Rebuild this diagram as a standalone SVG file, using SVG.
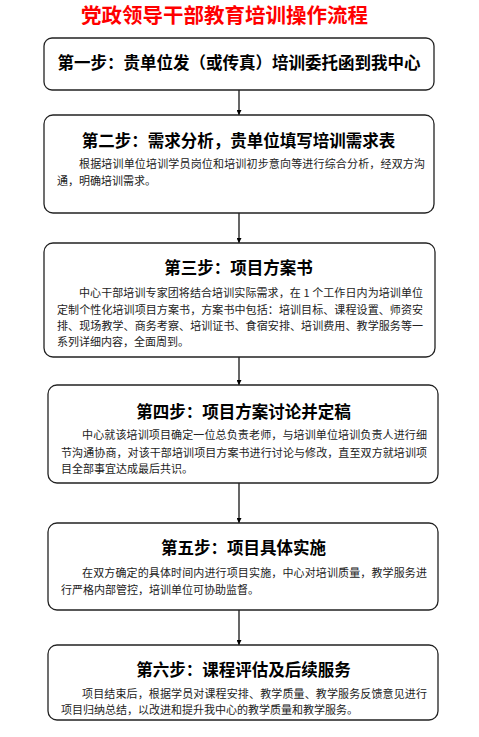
<svg xmlns="http://www.w3.org/2000/svg" width="479" height="737" viewBox="0 0 479 737">
<defs>
<style>
.box{fill:#fff;stroke:#222;stroke-width:1.3}
.h{font-family:"Noto Sans CJK SC","Noto Sans CJK JP",sans-serif;font-weight:bold;font-size:16.5px;fill:#000;text-anchor:middle}
.b{font-family:"Noto Sans CJK SC","Noto Sans CJK JP",sans-serif;font-size:11px;fill:#222}
.c{stroke:#000;stroke-width:1.2;fill:none;marker-end:url(#ah)}
</style>
<marker id="ah" viewBox="0 0 8 8" refX="8" refY="4" markerWidth="5" markerHeight="5" orient="auto" markerUnits="userSpaceOnUse">
<path d="M0,0 L8,4 L0,8 Z" fill="#000"/>
</marker>
</defs>
<rect width="479" height="737" fill="#fff"/>
<text x="224.5" y="23" font-family="Noto Sans CJK SC,sans-serif" font-weight="bold" font-size="20.5" fill="#f00" text-anchor="middle">党政领导干部教育培训操作流程</text>
<g id="connectors">
<line class="c" x1="239" y1="90" x2="239" y2="115"/>
<line class="c" x1="239" y1="213" x2="239" y2="243"/>
<line class="c" x1="239" y1="357" x2="239" y2="385"/>
<line class="c" x1="239" y1="483" x2="239" y2="523"/>
<line class="c" x1="239" y1="610" x2="239" y2="645"/>
</g>
<g id="step1">
<rect class="box" x="44" y="38" width="390" height="52" rx="8"/>
<text class="h" x="239" y="69">第一步：贵单位发（或传真）培训委托函到我中心</text>
</g>
<g id="step2">
<rect class="box" x="44" y="115" width="390" height="98" rx="9"/>
<text class="h" x="238.5" y="147">第二步：需求分析，贵单位填写培训需求表</text>
<text class="b" x="79" y="168" textLength="346" lengthAdjust="spacing">根据培训单位培训学员岗位和培训初步意向等进行综合分析，经双方沟</text>
<text class="b" x="57" y="185">通，明确培训需求。</text>
</g>
<g id="step3">
<rect class="box" x="44" y="243" width="391" height="114" rx="9"/>
<text class="h" x="238.5" y="274">第三步：项目方案书</text>
<text class="b" x="79" y="297" textLength="344" lengthAdjust="spacing">中心干部培训专家团将结合培训实际需求，在 1 个工作日内为培训单位</text>
<text class="b" x="57" y="314" textLength="366" lengthAdjust="spacing">定制个性化培训项目方案书，方案书中包括：培训目标、课程设置、师资安</text>
<text class="b" x="57" y="330" textLength="366" lengthAdjust="spacing">排、现场教学、商务考察、培训证书、食宿安排、培训费用、教学服务等一</text>
<text class="b" x="57" y="346">系列详细内容，全面周到。</text>
</g>
<g id="step4">
<rect class="box" x="48" y="385" width="390" height="98" rx="9"/>
<text class="h" x="243.5" y="418">第四步：项目方案讨论并定稿</text>
<text class="b" x="82" y="439" textLength="345" lengthAdjust="spacing">中心就该培训项目确定一位总负责老师，与培训单位培训负责人进行细</text>
<text class="b" x="61" y="457" textLength="366" lengthAdjust="spacing">节沟通协商，对该干部培训项目方案书进行讨论与修改，直至双方就培训项</text>
<text class="b" x="61" y="473">目全部事宜达成最后共识。</text>
</g>
<g id="step5">
<rect class="box" x="48" y="523" width="390" height="87" rx="9"/>
<text class="h" x="243.5" y="554">第五步：项目具体实施</text>
<text class="b" x="82" y="577" textLength="345" lengthAdjust="spacing">在双方确定的具体时间内进行项目实施，中心对培训质量，教学服务进</text>
<text class="b" x="61" y="594">行严格内部管控，培训单位可协助监督。</text>
</g>
<g id="step6">
<rect class="box" x="48" y="645" width="390" height="75" rx="9"/>
<text class="h" x="243.5" y="676">第六步：课程评估及后续服务</text>
<text class="b" x="82" y="698" textLength="345" lengthAdjust="spacing">项目结束后，根据学员对课程安排、教学质量、教学服务反馈意见进行</text>
<text class="b" x="61" y="714">项目归纳总结，以改进和提升我中心的教学质量和教学服务。</text>
</g>
</svg>
